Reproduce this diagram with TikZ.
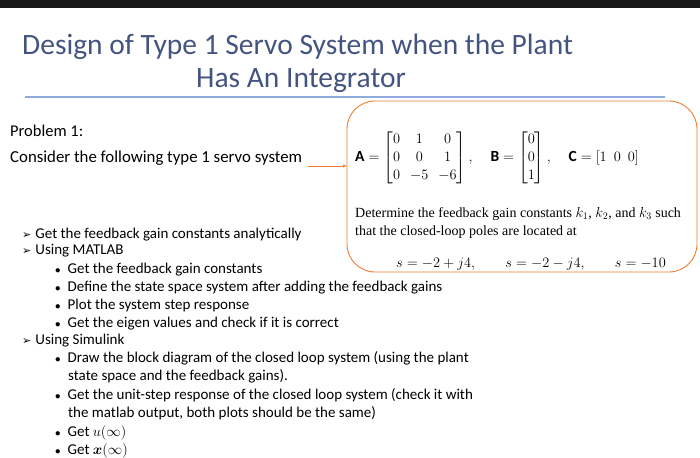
\documentclass[tikz,border=0pt]{standalone}
\usepackage{amsmath}
\usepackage{fontspec}
\setmainfont{Carlito}
\newfontfamily\serifx{Liberation Serif}
\newfontfamily\djvfont{DejaVu Sans}
\usetikzlibrary{arrows.meta}
\definecolor{titlec}{RGB}{68,84,128}
\definecolor{rulec}{RGB}{143,170,220}
\definecolor{boxc}{RGB}{237,125,49}
\tikzset{
  txt/.style={anchor=base west,inner sep=0pt,font=\fontsize{15}{18}\selectfont},
  ttl/.style={anchor=base west,inner sep=0pt,text=titlec,font=\fontsize{29.5}{34}\selectfont},
  sertxt/.style={anchor=base west,inner sep=0pt,font=\serifx\fontsize{14}{16}\selectfont},
}
\newcommand{\arr}{{\djvfont\fontsize{11}{13}\selectfont ➢}}
\newcommand{\bul}{{\fontsize{11}{13}\selectfont$\bullet$}}
\begin{document}
\begin{tikzpicture}[x=1pt,y=-1pt]
\useasboundingbox (0,0) rectangle (700,457);
\fill[black!90] (0,0) rectangle (700,8);
\node[ttl] (t1) at (22,55) {Design of Type 1 Servo System when the Plant};
\node[ttl] (t2) at (196,88) {Has An Integrator};
\draw[rulec,line width=1.2pt] (25,97) -- (665,97);
\node[txt,font=\fontsize{16.5}{19}\selectfont] (p1) at (10,137) {Problem 1:};
\node[txt,font=\fontsize{16.8}{19}\selectfont] (c1) at (10,162) {Consider the following type 1 servo system};
\draw[boxc,rounded corners=28pt,line width=0.9pt] (347,101) rectangle (697,272);
\node[anchor=west,inner sep=0pt] (mat) at (355,158) {\fontsize{15.5}{18}\selectfont
$\mathbf{A}=\begin{bmatrix}0&1&0\\0&0&1\\0&-5&-6\end{bmatrix},\quad
\mathbf{B}=\begin{bmatrix}0\\0\\1\end{bmatrix},\quad
\mathbf{C}=[1\ \ 0\ \ 0]$};
\draw[boxc,-{Latex[length=4pt]}] ([xshift=6pt,yshift=-4pt]c1.base east) -- ([xshift=-8pt,yshift=-4pt]c1.base east -| mat.west);
\node[sertxt] (d1) at (355,217) {Determine the feedback gain constants $k_1$, $k_2$, and $k_3$ such};
\node[sertxt] (d2) at (355,235) {that the closed-loop poles are located at};
\node[sertxt] (d3) at (396,267) {$s=-2+j4,\qquad s=-2-j4,\qquad s=-10$};
\node[txt] (b1) at (22,238) {\arr\hspace{4pt}Get the feedback gain constants analytically};
\node[txt] (b2) at (22,254) {\arr\hspace{4pt}Using MATLAB};
\node[txt] (s1) at (55,273) {\bul\hspace{7pt}Get the feedback gain constants};
\node[txt] (s2) at (55,291) {\bul\hspace{7pt}Define the state space system after adding the feedback gains};
\node[txt] (s3) at (55,309) {\bul\hspace{7pt}Plot the system step response};
\node[txt] (s4) at (55,327) {\bul\hspace{7pt}Get the eigen values and check if it is correct};
\node[txt] (b3) at (22,344) {\arr\hspace{4pt}Using Simulink};
\node[txt] (s5) at (55,362) {\bul\hspace{7pt}Draw the block diagram of the closed loop system (using the plant};
\node[txt] (s5b) at (68,380) {state space and the feedback gains).};
\node[txt] (s6) at (55,399) {\bul\hspace{7pt}Get the unit-step response of the closed loop system (check it with};
\node[txt] (s6b) at (68,417) {the matlab output, both plots should be the same)};
\node[txt] (s7) at (55,436) {\bul\hspace{7pt}Get $u(\infty)$};
\node[txt] (s8) at (55,454) {\bul\hspace{7pt}Get $\boldsymbol{x}(\infty)$};
\end{tikzpicture}
\end{document}
